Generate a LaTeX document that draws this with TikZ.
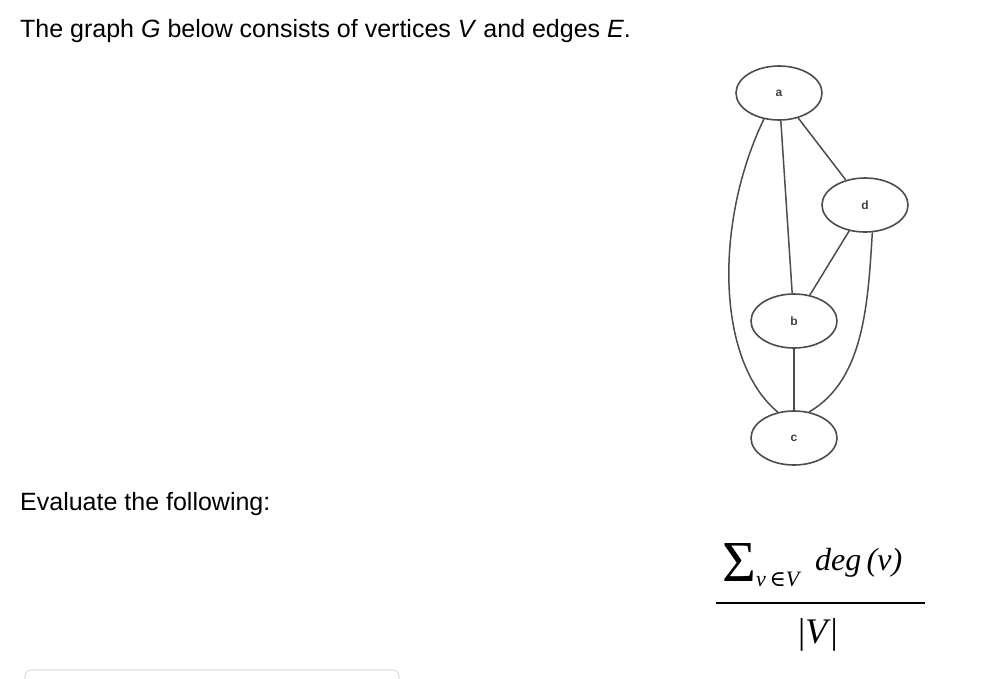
\documentclass[tikz,border=0pt]{standalone}
\usepackage{fontspec}
\setmainfont{Liberation Sans}
\newfontfamily\serifm{Liberation Serif}
\newfontfamily\symf{DejaVu Serif}
\usetikzlibrary{shapes.geometric}
\begin{document}
\begin{tikzpicture}[x=1pt,y=-1pt,
  vert/.style={ellipse,draw=black!70,line width=1.6pt,minimum width=86pt,minimum height=54pt,inner sep=0pt,font=\fontsize{12}{12}\selectfont\bfseries,text=black!75},
  edge/.style={draw=black!70,line width=1.5pt},
  txt/.style={anchor=base west,inner sep=0pt,font=\fontsize{25}{28}\selectfont}]
\useasboundingbox (0,0) rectangle (982,678);
\node[txt] (t1) at (20,37) {The graph \textit{G} below consists of vertices \textit{V} and edges \textit{E}.};
\node[txt] (t2) at (20,510) {Evaluate the following:};
\node[vert] (a) at (779,93) {a};
\node[vert] (d) at (865,205) {d};
\node[vert] (b) at (794,321) {b};
\node[vert] (c) at (794,438) {c};
\draw[edge] (a) -- (b);
\draw[edge] (a) -- (d);
\draw[edge] (d) -- (b);
\draw[edge] (b) -- (c);
\draw[edge] (a.240) .. controls (715,220) and (715,360) .. (c.122);
\draw[edge] (d.285) .. controls (868,300) and (865,380) .. (c.60);
\node[inner sep=0pt,anchor=base west,font=\serifm\fontsize{58}{58}\selectfont] (sig) at (722,581) {Σ};
\node[inner sep=0pt,anchor=base west,font=\serifm\itshape\fontsize{22}{22}\selectfont] (sub) at (756,586) {v\,{\symf\upshape ∈}V};
\node[inner sep=0pt,anchor=base west,font=\serifm\itshape\fontsize{32}{32}\selectfont] (deg) at (815,570) {deg\,(v)};
\draw[line width=1.5pt] (716,603) coordinate (l1) -- (925,603) coordinate (l2);
\node[inner sep=0pt,anchor=base,font=\serifm\fontsize{36}{36}\selectfont] (V) at (818,643) {|\textit{V}|};
\draw[black!12,line width=1.2pt,rounded corners=6pt] (25,690) -- (25,670) -- (399,670) -- (399,690);
\end{tikzpicture}
\end{document}
